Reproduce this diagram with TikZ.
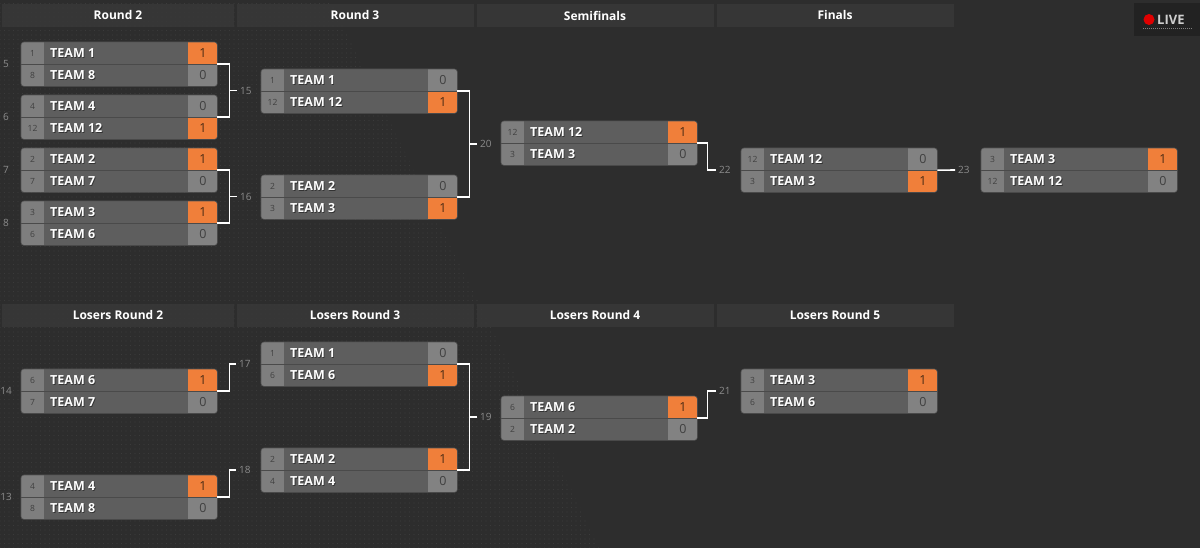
\documentclass[tikz,border=0pt]{standalone}
\usepackage{fontspec}
\setmainfont{Open Sans}
\usetikzlibrary{patterns.meta,calc}
\definecolor{bg}{HTML}{2D2D2D}
\definecolor{dotc}{HTML}{3B3B3B}
\definecolor{hdrc}{HTML}{383838}
\definecolor{nameg}{HTML}{5E5E5E}
\definecolor{seedg}{HTML}{7E7E7E}
\definecolor{scg}{HTML}{828282}
\definecolor{orng}{HTML}{F07F3A}
\definecolor{divc}{HTML}{4A4A4A}
\definecolor{boxc}{HTML}{555555}
\definecolor{lblc}{HTML}{8C8C8C}
\definecolor{stxtc}{HTML}{404040}
\definecolor{otxtc}{HTML}{4A2A14}
\definecolor{livebg}{HTML}{222222}
\definecolor{livered}{HTML}{E00000}
\definecolor{livetxt}{HTML}{CFCFCF}
\tikzset{
  mbox/.style={rectangle, minimum width=196pt, minimum height=44pt, inner sep=0pt, anchor=north west, fill=nameg, rounded corners=3pt},
  divl/.style={draw=divc, line width=1pt},
  boxl/.style={draw=boxc, line width=0.6pt},
  seedt/.style={text=stxtc, font=\fontsize{8.5}{9}\selectfont, inner sep=0pt},
  teamt/.style={text=white, font=\fontsize{12.5}{13}\selectfont\bfseries, inner sep=0pt, anchor=west},
  teamsh/.style={text=black, opacity=0.45, font=\fontsize{12.5}{13}\selectfont\bfseries, inner sep=0pt, anchor=west},
  scoret/.style={font=\fontsize{12.5}{13}\selectfont, inner sep=0pt},
  conn/.style={draw=white, line width=1.6pt},
  lbl/.style={text=lblc, font=\fontsize{10}{11}\selectfont, inner sep=3pt, anchor=west},
  rlbl/.style={text=lblc, font=\fontsize{10}{11}\selectfont, inner sep=0pt},
  hdr/.style={rectangle, fill=hdrc, fill opacity=0.9, text opacity=1, minimum width=232pt, minimum height=23pt, inner sep=0pt, text=white, font=\fontsize{12}{13}\selectfont\bfseries},
}
\newcommand\mtch[9]{%
  \ifnum#6=1 \def\ca{orng}\def\ta{otxtc}\else\def\ca{scg}\def\ta{stxtc}\fi
  \ifnum#9=1 \def\cb{orng}\def\tb{otxtc}\else\def\cb{scg}\def\tb{stxtc}\fi
  \node[mbox] (#1) at (#2,#3) {};
  \begin{scope}
    \clip[rounded corners=3pt] (#1.north west) rectangle (#1.south east);
    \fill[seedg] (#1.north west) rectangle ([xshift=23pt]#1.south west);
    \fill[\ca] ([xshift=-29pt]#1.north east) rectangle (#1.east);
    \fill[\cb] ([xshift=-29pt]#1.east) rectangle (#1.south east);
  \end{scope}
  \draw[divl] (#1.west) -- (#1.east);
  \draw[boxl, rounded corners=3pt] (#1.north west) rectangle (#1.south east);
  \node[seedt] at ([shift={(11.5,11)}]#1.north west) {#4};
  \node[seedt] at ([shift={(11.5,33)}]#1.north west) {#7};
  \node[teamsh] at ([shift={(29.8,11.8)}]#1.north west) {#5};
  \node[teamt] at ([shift={(29,11)}]#1.north west) {#5};
  \node[teamsh] at ([shift={(29.8,33.8)}]#1.north west) {#8};
  \node[teamt] at ([shift={(29,33)}]#1.north west) {#8};
  \node[scoret, text=\ta] at ([shift={(-14.5,11)}]#1.north east) {#6};
  \node[scoret, text=\tb] at ([shift={(-14.5,33)}]#1.north east) {#9};
}
\begin{document}
\begin{tikzpicture}[x=1pt,y=-1pt]
\useasboundingbox (0,0) rectangle (1200,548);
\fill[bg] (0,0) rectangle (1200,548);
\fill[pattern={Dots[distance=4.5pt, radius=0.6pt]}, pattern color=dotc] (0,0) -- (330,0) -- (600,548) -- (0,548) -- cycle;

% headers
\node[hdr] (h1) at (118,15.5) {Round 2};
\node[hdr, minimum width=237pt] (h2) at (355,15.5) {Round 3};
\node[hdr, minimum width=237pt] (h3) at (595,15.5) {Semifinals};
\node[hdr, minimum width=237pt] (h4) at (835,15.5) {Finals};
\node[hdr] (h5) at (118,315) {Losers Round 2};
\node[hdr, minimum width=237pt] (h6) at (355,315) {Losers Round 3};
\node[hdr, minimum width=237pt] (h7) at (595,315) {Losers Round 4};
\node[hdr, minimum width=237pt] (h8) at (835,315) {Losers Round 5};

% live badge
\fill[livebg] (1134,3) rectangle (1200,36);
\node[circle, fill=livered, minimum size=11pt, inner sep=0pt] (dot) at (1149,19.5) {};
\node[text=livetxt, font=\fontsize{13}{14}\selectfont\bfseries, inner sep=0pt, anchor=west] (live) at (1157,19.5) {LIVE};
\draw[draw=gray, line width=0.6pt, dash pattern=on 0.8pt off 1.2pt] (1143,28.5) -- (1192,28.5);

% winners bracket
\mtch{m5}{21}{42}{1}{TEAM 1}{1}{8}{TEAM 8}{0}
\mtch{m6}{21}{95}{4}{TEAM 4}{0}{12}{TEAM 12}{1}
\mtch{m7}{21}{148}{2}{TEAM 2}{1}{7}{TEAM 7}{0}
\mtch{m8}{21}{201}{3}{TEAM 3}{1}{6}{TEAM 6}{0}
\mtch{m15}{261}{69}{1}{TEAM 1}{0}{12}{TEAM 12}{1}
\mtch{m16}{261}{175}{2}{TEAM 2}{0}{3}{TEAM 3}{1}
\mtch{m20}{501}{121}{12}{TEAM 12}{1}{3}{TEAM 3}{0}
\mtch{m22}{741}{148}{12}{TEAM 12}{0}{3}{TEAM 3}{1}
\mtch{m23}{981}{148}{3}{TEAM 3}{1}{12}{TEAM 12}{0}

% losers bracket
\mtch{m14}{21}{369}{6}{TEAM 6}{1}{7}{TEAM 7}{0}
\mtch{m13}{21}{475}{4}{TEAM 4}{1}{8}{TEAM 8}{0}
\mtch{m17}{261}{342}{1}{TEAM 1}{0}{6}{TEAM 6}{1}
\mtch{m18}{261}{448}{2}{TEAM 2}{1}{4}{TEAM 4}{0}
\mtch{m19}{501}{396}{6}{TEAM 6}{1}{2}{TEAM 2}{0}
\mtch{m21}{741}{369}{3}{TEAM 3}{1}{6}{TEAM 6}{0}

% left match numbers
\node[rlbl] (n5) at (6,64) {5};
\node[rlbl] (n6) at (6,117) {6};
\node[rlbl] (n7) at (6,170) {7};
\node[rlbl] (n8) at (6,223) {8};
\node[rlbl] (n14) at (6,391) {14};
\node[rlbl] (n13) at (6,497) {13};

% connector labels
\node[lbl] (l15) at (237,90.5) {15};
\node[lbl] (l16) at (237,196.5) {16};
\node[lbl] (l20) at (477,144) {20};
\node[lbl] (l22) at (716,170) {22};
\node[lbl] (l23) at (955,170) {23};
\node[lbl] (l17) at (236,364) {17};
\node[lbl] (l18) at (236,470) {18};
\node[lbl] (l19) at (477,417) {19};
\node[lbl] (l21) at (716,391) {21};

% connectors
\draw[conn] (m5.east) -- ++(12,0) |- (m6.east);
\draw[conn] (l15.west) -- ++(-8,0);
\draw[conn] (m7.east) -- ++(12,0) |- (m8.east);
\draw[conn] (l16.west) -- ++(-8,0);
\draw[conn] (m15.east) -- ++(12,0) |- (m16.east);
\draw[conn] (l20.west) -- ++(-8,0);
\draw[conn] (m20.east) -- ++(10,0) |- (l22.west);
\draw[conn] (m22.east) -- (l23.west);
\draw[conn] (m14.east) -- ++(12,0) |- (l17.west);
\draw[conn] (m13.east) -- ++(12,0) |- (l18.west);
\draw[conn] (m17.east) -- ++(12,0) |- (m18.east);
\draw[conn] (l19.west) -- ++(-8,0);
\draw[conn] (m19.east) -- ++(10,0) |- (l21.west);
\end{tikzpicture}
\end{document}
